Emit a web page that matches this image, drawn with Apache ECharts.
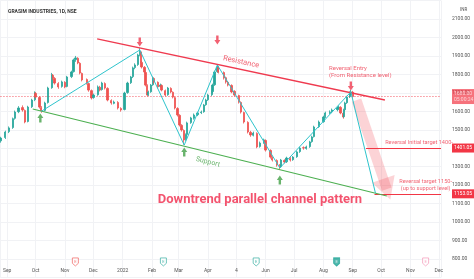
<!DOCTYPE html>
<html>
<head>
<meta charset="utf-8">
<script src="https://cdn.jsdelivr.net/npm/echarts@6/dist/echarts.min.js"></script>
<style>
  html, body { margin: 0; padding: 0; background: #fff; }
  #chart { width: 474px; height: 279px; }
</style>
</head>
<body>
<div id="chart"></div>
<script>
// daily candles: [date, open, close, low, high]
const candles = [
  ['2021-08-25',1440,1455,1430,1462], ['2021-08-30',1458,1488,1450,1495], ['2021-09-03',1490,1510,1482,1518],
  ['2021-09-07',1512,1560,1505,1566], ['2021-09-09',1562,1596,1555,1604], ['2021-09-13',1598,1618,1590,1628],
  ['2021-09-17',1620,1607,1598,1632], ['2021-09-20',1604,1542,1535,1610], ['2021-09-23',1545,1623,1540,1630],
  ['2021-09-27',1625,1661,1618,1668], ['2021-09-30',1663,1699,1655,1708], ['2021-10-01',1697,1677,1670,1705],
  ['2021-10-05',1675,1623,1615,1682], ['2021-10-07',1620,1602,1592,1628], ['2021-10-11',1605,1645,1600,1652],
  ['2021-10-14',1648,1726,1642,1733], ['2021-10-18',1728,1797,1722,1808], ['2021-10-19',1795,1780,1770,1802],
  ['2021-10-21',1778,1753,1745,1785], ['2021-10-25',1750,1732,1722,1758], ['2021-10-29',1735,1759,1728,1766],
  ['2021-11-01',1757,1732,1725,1763], ['2021-11-03',1735,1786,1730,1792], ['2021-11-08',1788,1813,1780,1820],
  ['2021-11-10',1815,1878,1810,1885], ['2021-11-12',1880,1889,1868,1900], ['2021-11-15',1887,1862,1855,1893],
  ['2021-11-17',1860,1807,1800,1866], ['2021-11-19',1805,1770,1762,1810], ['2021-11-24',1772,1753,1745,1778],
  ['2021-11-26',1750,1715,1706,1756], ['2021-11-29',1712,1672,1664,1718], ['2021-12-01',1675,1688,1668,1696],
  ['2021-12-06',1690,1732,1684,1740], ['2021-12-08',1730,1715,1708,1738], ['2021-12-10',1718,1753,1712,1760],
  ['2021-12-13',1750,1726,1718,1757], ['2021-12-16',1724,1661,1654,1730], ['2021-12-20',1658,1645,1636,1665],
  ['2021-12-23',1643,1650,1638,1658], ['2021-12-27',1648,1618,1610,1655], ['2021-12-30',1615,1607,1598,1622],
  ['2022-01-03',1610,1699,1605,1706], ['2022-01-06',1702,1753,1695,1760], ['2022-01-10',1755,1786,1748,1792],
  ['2022-01-12',1788,1835,1780,1842], ['2022-01-14',1837,1851,1828,1860], ['2022-01-17',1853,1905,1846,1912],
  ['2022-01-19',1907,1925,1898,1942], ['2022-01-20',1922,1867,1860,1928], ['2022-01-21',1865,1840,1832,1872],
  ['2022-01-24',1838,1813,1805,1845], ['2022-01-25',1810,1742,1735,1815], ['2022-01-27',1740,1688,1680,1746],
  ['2022-01-28',1690,1704,1683,1712], ['2022-01-31',1706,1742,1700,1748], ['2022-02-02',1744,1780,1738,1788],
  ['2022-02-03',1778,1759,1750,1784], ['2022-02-07',1757,1732,1724,1762], ['2022-02-10',1735,1742,1728,1750],
  ['2022-02-11',1740,1715,1708,1746], ['2022-02-15',1712,1688,1680,1718], ['2022-02-18',1690,1726,1684,1732],
  ['2022-02-21',1724,1705,1698,1730], ['2022-02-23',1703,1677,1670,1708], ['2022-02-25',1674,1618,1610,1680],
  ['2022-02-28',1615,1580,1572,1622], ['2022-03-02',1578,1526,1518,1584], ['2022-03-04',1524,1499,1490,1530],
  ['2022-03-07',1496,1445,1420,1502], ['2022-03-09',1448,1472,1440,1480], ['2022-03-10',1475,1537,1470,1544],
  ['2022-03-14',1539,1564,1532,1570], ['2022-03-17',1562,1580,1555,1588], ['2022-03-21',1582,1591,1574,1598],
  ['2022-03-25',1593,1596,1585,1604], ['2022-03-28',1598,1634,1592,1640], ['2022-03-30',1636,1661,1630,1668],
  ['2022-04-01',1663,1688,1656,1695], ['2022-04-05',1690,1705,1682,1712], ['2022-04-06',1707,1742,1700,1750],
  ['2022-04-08',1744,1813,1738,1820], ['2022-04-11',1815,1840,1808,1852], ['2022-04-12',1838,1813,1805,1845],
  ['2022-04-18',1810,1780,1772,1816], ['2022-04-20',1782,1759,1750,1788], ['2022-04-22',1757,1742,1735,1764],
  ['2022-04-26',1740,1705,1698,1746], ['2022-04-29',1708,1688,1680,1714], ['2022-05-04',1685,1650,1642,1690],
  ['2022-05-06',1648,1596,1588,1654], ['2022-05-09',1593,1542,1534,1598], ['2022-05-13',1540,1488,1480,1546],
  ['2022-05-16',1486,1472,1462,1494], ['2022-05-19',1470,1482,1464,1490], ['2022-05-23',1480,1407,1400,1486],
  ['2022-05-26',1410,1428,1403,1436], ['2022-05-30',1430,1445,1424,1452], ['2022-06-01',1442,1390,1382,1448],
  ['2022-06-06',1388,1352,1344,1394], ['2022-06-08',1350,1336,1328,1356], ['2022-06-13',1333,1309,1300,1340],
  ['2022-06-16',1307,1298,1285,1314], ['2022-06-17',1300,1336,1294,1342], ['2022-06-21',1334,1325,1318,1340],
  ['2022-06-23',1327,1347,1320,1354], ['2022-06-27',1345,1336,1328,1352], ['2022-06-30',1338,1352,1332,1358],
  ['2022-07-04',1354,1380,1348,1386], ['2022-07-07',1382,1401,1375,1408], ['2022-07-11',1403,1401,1392,1410],
  ['2022-07-14',1399,1407,1392,1414], ['2022-07-18',1409,1434,1402,1440], ['2022-07-20',1436,1461,1430,1468],
  ['2022-07-22',1463,1515,1458,1522], ['2022-07-27',1517,1542,1510,1550], ['2022-08-01',1544,1569,1538,1576],
  ['2022-08-03',1571,1591,1564,1598], ['2022-08-08',1593,1596,1585,1605], ['2022-08-10',1598,1607,1590,1615],
  ['2022-08-16',1609,1618,1600,1626], ['2022-08-17',1620,1623,1612,1632], ['2022-08-19',1621,1591,1584,1628],
  ['2022-08-22',1589,1569,1560,1595], ['2022-08-23',1571,1607,1565,1614], ['2022-08-24',1609,1645,1603,1652],
  ['2022-08-26',1647,1677,1640,1684], ['2022-08-29',1679,1699,1672,1708], ['2022-08-30',1701,1705,1690,1716],
  ['2022-09-01',1703,1680,1674,1710]
];

const resistance = [['2021-12-05', 1992], ['2022-10-05', 1661]];
const support = [['2021-09-28', 1612], ['2022-10-07', 1141]];
const zigzag = [['2021-10-07', 1600], ['2022-01-19', 1932], ['2022-03-07', 1417], ['2022-04-11', 1851],
  ['2022-06-16', 1293], ['2022-08-30', 1705], ['2022-09-25', 1157]];

const lastPrice = 1680.00;
const lastTime = '05:00:24';
const targets = [['2022-09-15', 1401.05], ['2022-09-24', 1153.05]];
const reversalArrow = [['2022-09-05', 1660], ['2022-10-07', 1178]];

const downArrows = [['2022-01-19', 1975], ['2022-04-11', 1986], ['2022-08-30', 1737]];
const upArrows = [['2021-10-06', 1564], ['2022-03-07', 1380], ['2022-06-16', 1228]];
const earnings = [['2021-11-12', 784, 'miss'], ['2022-02-13', 784, 'beat'], ['2022-05-22', 784, 'beat'],
  ['2022-08-15', 784, 'last'], ['2022-11-17', 784, 'next']];

const labels2021 = ['', '', '', '', '', '', '', 'Aug', 'Sep', 'Oct', 'Nov', 'Dec'];
const labels2022 = ['2022', 'Feb', 'Mar', 'Apr', '4', 'Jun', 'Jul', 'Aug', 'Sep', 'Oct', 'Nov', 'Dec'];

const notes = [
  { text: 'Resistance', at: ['2022-05-06', 1867] },
  { text: 'Support', at: ['2022-04-01', 1325] },
  { text: 'Reversal Entry\n(From Resistance level)', at: ['2022-08-07', 1813] },
  { text: 'Reversal Initial target 1400-', at: ['2022-11-10', 1428] },
  { text: 'Reversal target 1150-\n(up to support level)', at: ['2022-11-17', 1201] },
  { text: 'Downtrend parallel channel pattern', at: ['2022-05-26', 1120] }
];

const RED = '#f23645';
const GREEN = '#4caf50';
const CYAN = '#2ec4cc';
const xMin = '2021-08-24 14:00';
const xMax = '2022-12-03 06:00';

const noteStyles = [
  { color: '#ee3a4e', fontSize: 7.5, rotate: -12 },
  { color: '#43a047', fontSize: 7, rotate: -14 },
  { color: '#ee3a4e', fontSize: 6, align: 'left', lineHeight: 7.5 },
  { color: '#ee3a4e', fontSize: 5.6 },
  { color: '#ee3a4e', fontSize: 5.6, lineHeight: 7.5 },
  { color: '#f0284a', fontSize: 13, fontWeight: 'bold' }
];

const downPath = 'path://M3,0 L7,0 L7,6 L10,6 L5,12 L0,6 L3,6 Z';
const upPath = 'path://M5,0 L10,6 L7,6 L7,12 L3,12 L3,6 L0,6 Z';
const shield = 'path://M0,0 L10,0 L10,8 L5,12 L0,8 Z';

const chart = echarts.init(document.getElementById('chart'));

const endLabel = (text, bg) => ({
  show: true, position: 'end', distance: 11, formatter: text,
  backgroundColor: bg, color: '#fff', fontSize: 5, padding: [1.5, 2], lineHeight: 6,
  fontFamily: 'Roboto, sans-serif'
});

chart.setOption({
  animation: false,
  backgroundColor: '#fff',
  textStyle: { fontFamily: 'Roboto, "Open Sans", sans-serif' },
  title: [
    { text: 'GRASIM INDUSTRIES, 1D, NSE', left: 3, top: 4,
      textStyle: { fontSize: 5, fontWeight: 'bold', color: '#333' } },
    { text: 'INR', left: 455, top: 2, textStyle: { fontSize: 4.5, fontWeight: 'normal', color: '#555' } }
  ],
  grid: { left: 0, right: 33, top: 0.54, bottom: 1.55 },
  xAxis: {
    type: 'time', min: xMin, max: xMax, offset: -12, splitNumber: 15,
    minInterval: 28 * 86400000, maxInterval: 31 * 86400000,
    axisLine: { show: false }, axisTick: { show: false },
    axisLabel: {
      fontSize: 5, color: '#555', margin: 3, hideOverlap: false,
      formatter: v => {
        const d = new Date(v);
        return (d.getFullYear() === 2022 ? labels2022 : labels2021)[d.getMonth()];
      }
    },
    splitLine: { show: true, lineStyle: { color: '#f1f2f5', width: 1 } }
  },
  yAxis: {
    type: 'value', position: 'right', min: 700, max: 2200, interval: 100,
    axisLine: { show: false }, axisTick: { show: false },
    axisLabel: {
      fontSize: 5, color: '#555', margin: 11,
      formatter: v => (v > 2100 || v < 800) ? '' : v.toFixed(2)
    },
    splitLine: { show: true, lineStyle: { color: '#f1f2f5', width: 1 } }
  },
  series: [
    {
      type: 'candlestick', name: 'GRASIM', barWidth: 1.8,
      data: candles.map(c => [c[0], c[1], c[2], c[3], c[4]]),
      itemStyle: { color: '#26a69a', color0: '#ef5350', borderColor: '#26a69a', borderColor0: '#ef5350', borderWidth: 0.8 },
      markLine: {
        silent: true, symbol: ['none', 'none'], z: 1,
        data: [
          [{ coord: [xMin, lastPrice], lineStyle: { type: [1.5, 1.5], color: RED, width: 0.8, opacity: 0.7 } },
           { coord: [xMax, lastPrice], label: endLabel(lastPrice.toFixed(2) + '\n' + lastTime, RED) }],
          [{ coord: targets[0], lineStyle: { type: 'solid', color: RED, width: 1.2 } },
           { coord: [xMax, targets[0][1]], label: endLabel(targets[0][1].toFixed(2), RED) }],
          [{ coord: targets[1], lineStyle: { type: 'solid', color: RED, width: 1.2 } },
           { coord: [xMax, targets[1][1]], label: endLabel(targets[1][1].toFixed(2), RED) }],
          [{ coord: reversalArrow[0], lineStyle: { type: 'solid', color: 'rgba(242,54,69,0.22)', width: 10 }, label: { show: false } },
           { coord: reversalArrow[1], symbol: 'triangle', symbolSize: [24, 22], label: { show: false } }]
        ]
      }
    },
    { type: 'line', name: 'Resistance', data: resistance, symbol: 'none', lineStyle: { color: '#ef3a4f', width: 1.4 } },
    { type: 'line', name: 'Support', data: support, symbol: 'none', lineStyle: { color: GREEN, width: 1.1 } },
    { type: 'line', name: 'Swing', data: zigzag, symbol: 'none', lineStyle: { color: CYAN, width: 1 } },
    { type: 'scatter', name: 'Tops', data: downArrows, symbol: downPath, symbolSize: [6, 9], itemStyle: { color: '#ef3a4f' } },
    { type: 'scatter', name: 'Bottoms', data: upArrows, symbol: upPath, symbolSize: [6, 9], itemStyle: { color: '#43a047' } },
    {
      type: 'scatter', name: 'Earnings', clip: false, symbol: shield, symbolSize: [6, 8],
      data: earnings.map(e => ({
        value: [e[0], e[1]],
        itemStyle: e[2] === 'last' ? { color: '#26a69a', borderColor: '#26a69a' }
          : { color: '#fff', borderWidth: 0.8, borderColor: e[2] === 'miss' ? '#ef5350' : e[2] === 'next' ? '#f48fb1' : '#26a69a' },
        label: { show: true, formatter: 'E', fontSize: 4, position: 'inside',
          color: e[2] === 'last' ? '#fff' : e[2] === 'miss' ? '#ef5350' : e[2] === 'next' ? '#f48fb1' : '#26a69a' }
      }))
    },
    {
      type: 'scatter', name: 'Notes', clip: false, symbolSize: 0, silent: true, z: 5,
      data: notes.map((n, i) => ({
        value: n.at,
        label: Object.assign({ show: true, position: 'inside', formatter: n.text,
          fontFamily: 'Roboto, sans-serif' }, noteStyles[i])
      }))
    }
  ]
});

window.onresize = () => chart.resize();
</script>
</body>
</html>
